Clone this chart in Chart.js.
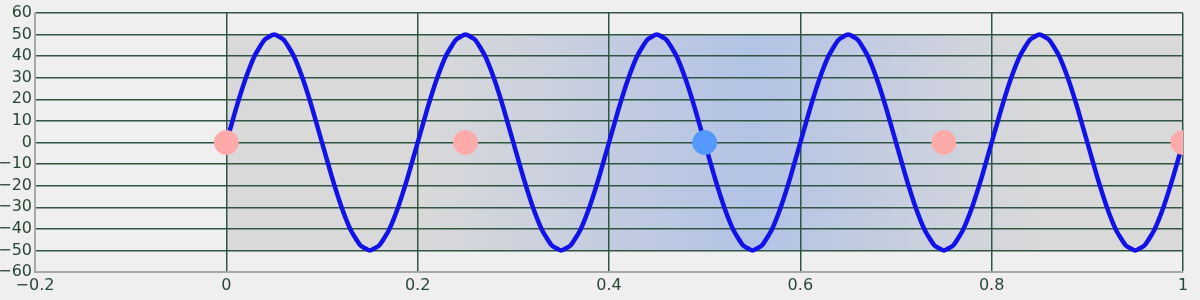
<!DOCTYPE html>
<html>
<head>
<meta charset="utf-8">
<script src="https://cdn.jsdelivr.net/npm/chart.js@4/dist/chart.umd.min.js"></script>
<style>
  html, body { margin: 0; padding: 0; background: #efefef; }
  #wrap { width: 1200px; height: 300px; }
</style>
</head>
<body>
<div id="wrap"><canvas id="chart"></canvas></div>
<script>
// wave samples (x step 0.01)
const waveX = [
  0.00, 0.01, 0.02, 0.03, 0.04, 0.05, 0.06, 0.07, 0.08, 0.09,
  0.10, 0.11, 0.12, 0.13, 0.14, 0.15, 0.16, 0.17, 0.18, 0.19,
  0.20, 0.21, 0.22, 0.23, 0.24, 0.25, 0.26, 0.27, 0.28, 0.29,
  0.30, 0.31, 0.32, 0.33, 0.34, 0.35, 0.36, 0.37, 0.38, 0.39,
  0.40, 0.41, 0.42, 0.43, 0.44, 0.45, 0.46, 0.47, 0.48, 0.49,
  0.50, 0.51, 0.52, 0.53, 0.54, 0.55, 0.56, 0.57, 0.58, 0.59,
  0.60, 0.61, 0.62, 0.63, 0.64, 0.65, 0.66, 0.67, 0.68, 0.69,
  0.70, 0.71, 0.72, 0.73, 0.74, 0.75, 0.76, 0.77, 0.78, 0.79,
  0.80, 0.81, 0.82, 0.83, 0.84, 0.85, 0.86, 0.87, 0.88, 0.89,
  0.90, 0.91, 0.92, 0.93, 0.94, 0.95, 0.96, 0.97, 0.98, 0.99,
  1.00
];
const waveY = [
  0, 15.5, 29.4, 40.5, 47.6, 50, 47.6, 40.5, 29.4, 15.5,
  0, -15.5, -29.4, -40.5, -47.6, -50, -47.6, -40.5, -29.4, -15.5,
  0, 15.5, 29.4, 40.5, 47.6, 50, 47.6, 40.5, 29.4, 15.5,
  0, -15.5, -29.4, -40.5, -47.6, -50, -47.6, -40.5, -29.4, -15.5,
  0, 15.5, 29.4, 40.5, 47.6, 50, 47.6, 40.5, 29.4, 15.5,
  0, -15.5, -29.4, -40.5, -47.6, -50, -47.6, -40.5, -29.4, -15.5,
  0, 15.5, 29.4, 40.5, 47.6, 50, 47.6, 40.5, 29.4, 15.5,
  0, -15.5, -29.4, -40.5, -47.6, -50, -47.6, -40.5, -29.4, -15.5,
  0, 15.5, 29.4, 40.5, 47.6, 50, 47.6, 40.5, 29.4, 15.5,
  0, -15.5, -29.4, -40.5, -47.6, -50, -47.6, -40.5, -29.4, -15.5,
  0
];

// marker dots on the zero line
const dotX = [0, 0.25, 0.5, 0.75, 1];
const dotY = [0, 0, 0, 0, 0];
const dotColors = ['#ffaaaa', '#ffaaaa', '#5599ff', '#ffaaaa', '#ffaaaa'];

// shaded band behind the wave
const bandX = [0, 1];
const bandY = [-50, 50];
const bandGlowX = [0.2, 0.55, 0.85];

const tickColor = '#284634';
const gridColor = '#2e5642';

// drawn before the scales so the grid stays on top of it
const bandPlugin = {
    id: 'band',
    beforeDraw(chart) {
        const { ctx, scales: { x, y } } = chart;
        const x0 = x.getPixelForValue(bandX[0]);
        const x1 = x.getPixelForValue(bandX[1]);
        const y0 = y.getPixelForValue(bandY[1]);
        const y1 = y.getPixelForValue(bandY[0]);
        ctx.save();
        ctx.fillStyle = '#d9d9d9';
        ctx.fillRect(x0, y0, x1 - x0, y1 - y0);
        const gx0 = x.getPixelForValue(bandGlowX[0]);
        const gx1 = x.getPixelForValue(bandGlowX[2]);
        const mid = (x.getPixelForValue(bandGlowX[1]) - gx0) / (gx1 - gx0);
        const g = ctx.createLinearGradient(gx0, 0, gx1, 0);
        g.addColorStop(0, 'rgba(100,150,255,0)');
        g.addColorStop(mid, 'rgba(100,150,255,0.33)');
        g.addColorStop(1, 'rgba(100,150,255,0)');
        ctx.fillStyle = g;
        ctx.fillRect(x0, y0, x1 - x0, y1 - y0);
        ctx.restore();
    }
};

const minusSign = v => String(v).replace('-', '\u2212');

new Chart(document.getElementById('chart'), {
    type: 'scatter',
    data: {
        datasets: [
            {
                label: 'dots',
                data: dotX.map((x, i) => ({ x, y: dotY[i] })),
                backgroundColor: dotColors,
                borderColor: dotColors,
                pointRadius: 12,
                pointHoverRadius: 12,
                showLine: false,
                order: 1
            },
            {
                label: 'wave',
                data: waveX.map((x, i) => ({ x, y: waveY[i] })),
                borderColor: '#1212e8',
                borderWidth: 4.5,
                pointRadius: 0,
                showLine: true,
                tension: 0.15,
                order: 2
            }
        ]
    },
    options: {
        responsive: true,
        maintainAspectRatio: false,
        animation: false,
        layout: { padding: { top: 9, right: 17, left: 0, bottom: 0 } },
        plugins: {
            legend: { display: false },
            tooltip: { enabled: false }
        },
        scales: {
            x: {
                type: 'linear',
                min: -0.2,
                max: 1,
                afterFit: s => { s.height = 28; },
                ticks: {
                    stepSize: 0.2,
                    autoSkip: false,
                    maxRotation: 0,
                    color: tickColor,
                    font: { family: 'DejaVu Sans', size: 16 },
                    padding: 4,
                    callback: v => minusSign(Math.round(v * 10) / 10)
                },
                grid: { color: gridColor, lineWidth: 1.5, drawTicks: false },
                border: { color: '#a8a8a8', width: 2 }
            },
            y: {
                min: -60,
                max: 60,
                afterFit: s => { s.width = 35; },
                ticks: {
                    stepSize: 10,
                    autoSkip: false,
                    color: tickColor,
                    font: { family: 'DejaVu Sans', size: 16 },
                    padding: 3,
                    callback: v => minusSign(v)
                },
                grid: { color: gridColor, lineWidth: 1.5, drawTicks: false },
                border: { color: '#a8a8a8', width: 2 }
            }
        }
    },
    plugins: [bandPlugin]
});
</script>
</body>
</html>
